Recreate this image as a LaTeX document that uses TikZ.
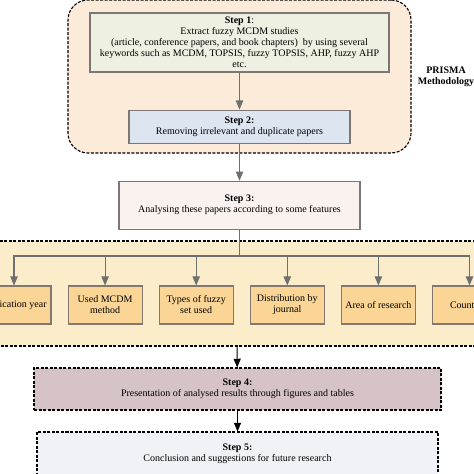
\documentclass[tikz,border=0pt]{standalone}
\usepackage{fontspec}
\setmainfont{Liberation Serif}
\usepackage{xcolor}
\usepackage{tikz}
\usetikzlibrary{shapes,arrows}
\usetikzlibrary{positioning}
\definecolor{prismafill}{HTML}{FCEBD9}
\definecolor{onefill}{HTML}{EEF0E2}
\definecolor{twofill}{HTML}{DCE5F0}
\definecolor{threefill}{HTML}{FAF2EF}
\definecolor{bandfill}{HTML}{FBEDC9}
\definecolor{featfill}{HTML}{FAD596}
\definecolor{fourfill}{HTML}{D6C3C7}
\definecolor{fivefill}{HTML}{F1F2F7}
\definecolor{boxgrey}{HTML}{7C7774}
\definecolor{linegrey}{HTML}{6F6F6F}
\tikzstyle{block} = [rectangle, draw=boxgrey, line width=1.1pt, align=center,
    font=\fontsize{10}{11}\selectfont, inner sep=2pt]
\tikzstyle{feature} = [block, fill=featfill, draw=boxgrey!90!brown,
    minimum width=74pt, minimum height=38pt]
\tikzstyle{dblock} = [block, draw=black, dash pattern=on 3pt off 1.5pt]
\tikzstyle{region} = [rectangle, draw=black, line width=1.1pt,
    dash pattern=on 3pt off 1.5pt]
\tikzstyle{edge} = [draw, linegrey, line width=1.1pt]
\tikzstyle{line} = [draw, linegrey, line width=1.1pt, -triangle 45]
\tikzstyle{dline} = [draw, black, line width=1pt, -triangle 45]

\begin{document}
\begin{tikzpicture}[x=1pt, y=-1pt]
  \clip (0,0) rectangle (474,474);
  % Background regions
  \node [region, rounded corners=20pt, fill=prismafill, minimum width=343pt,
    minimum height=153pt] (prisma) at (239.5,76.5) {};
  \node [font=\bfseries\fontsize{10}{11}\selectfont, align=center]
    (prismalabel) at (446,77) {PRISMA\\Methodology};
  \node [region, fill=bandfill, minimum width=500pt, minimum height=105pt]
    (band) at (237,293.5) {};
  % Place nodes
  \node [block, fill=onefill, minimum width=299pt, minimum height=59pt]
    (step1) at (239.5,42.5) {\textbf{Step 1}:\\Extract fuzzy MCDM studies\\
    (article, conference papers, and book chapters)\ \ by using several\\
    keywords such as MCDM, TOPSIS, fuzzy TOPSIS, AHP, fuzzy AHP\\etc.};
  \node [block, fill=twofill, minimum width=221pt, minimum height=33pt,
    below=37pt of step1] (step2) {\textbf{Step 2:}\\
    Removing irrelevant and duplicate papers};
  \node [block, fill=threefill, minimum width=241pt, minimum height=48pt,
    below=37pt of step2] (step3) {\textbf{Step 3:}\\
    Analysing these papers according to some features};
  \node [feature] (year) at (14,305) {Publication year};
  \node [feature, right=16pt of year] (method) {Used MCDM\\method};
  \node [feature, right=16pt of method] (fuzzy) {Types of fuzzy\\set used};
  \node [feature, right=16pt of fuzzy] (journal) {Distribution by\\journal};
  \node [feature, right=16pt of journal] (area) {Area of research};
  \node [feature, right=16pt of area] (country) {Countries};
  \node [dblock, fill=fourfill, minimum width=407pt, minimum height=42pt]
    (step4) at (237.5,389) {\textbf{Step 4:}\\
    Presentation of analysed results through figures and tables};
  \node [dblock, fill=fivefill, minimum width=401pt, minimum height=44pt]
    (step5) at (237.5,454) {\textbf{Step 5:}\\
    Conclusion and suggestions for future research};
  \coordinate (fork) at (239.5,256);
  % Draw edges
  \path[line] (step1) -- (step2);
  \path[line] (step2) -- (step3);
  \path[edge] (step3) -- (fork);
  \path[line] (fork) -| (year);
  \path[line] (fork) -| (method);
  \path[line] (fork) -| (fuzzy);
  \path[line] (fork) -| (journal);
  \path[line] (fork) -| (area);
  \path[line] (fork) -| (country);
  \path[dline] (band.south) -- (step4);
  \path[dline] (step4) -- (step5);
\end{tikzpicture}
\end{document}
